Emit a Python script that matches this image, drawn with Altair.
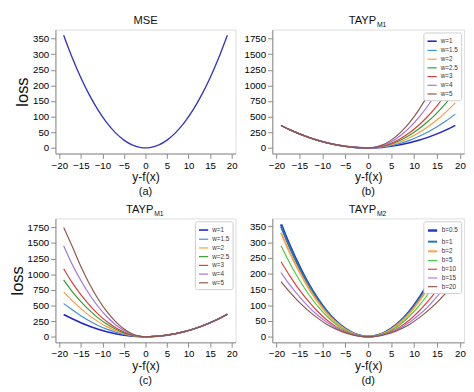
import altair as alt
import pandas as pd

FONT = "Liberation Sans"

# ---------------- data ----------------
X = [-19, -17, -15, -13, -11, -9, -7, -5, -3, -1, 0, 1, 3, 5, 7, 9, 11, 13, 15, 17, 19]

MSE = [361, 289, 225, 169, 121, 81, 49, 25, 9, 1, 0, 1, 9, 25, 49, 81, 121, 169, 225, 289, 361]

# (b) TAYP_M1 : right side raised
B_NAMES = ["w=1", "w=1.5", "w=2", "w=2.5", "w=3", "w=4", "w=5"]
B_W1 = [361, 289, 225, 169, 121, 81, 49, 25, 9, 1, 0, 1, 9, 25, 49, 81, 121, 169, 225, 289, 361]
B_W15 = [361, 289, 225, 169, 121, 81, 49, 25, 9, 1, 0, 1.5, 13.5, 37.5, 73.5, 121.5, 181.5, 253.5, 337.5, 433.5, 541.5]
B_W2 = [361, 289, 225, 169, 121, 81, 49, 25, 9, 1, 0, 2, 18, 50, 98, 162, 242, 338, 450, 578, 722]
B_W25 = [361, 289, 225, 169, 121, 81, 49, 25, 9, 1, 0, 2.5, 22.5, 62.5, 122.5, 202.5, 302.5, 422.5, 562.5, 722.5, 902.5]
B_W3 = [361, 289, 225, 169, 121, 81, 49, 25, 9, 1, 0, 3, 27, 75, 147, 243, 363, 507, 675, 867, 1083]
B_W4 = [361, 289, 225, 169, 121, 81, 49, 25, 9, 1, 0, 4, 36, 100, 196, 324, 484, 676, 900, 1156, 1444]
B_W5 = [361, 289, 225, 169, 121, 81, 49, 25, 9, 1, 0, 5, 45, 125, 245, 405, 605, 845, 1125, 1445, 1805]

# (c) TAYP_M1 : left side raised
C_W1 = [356, 289, 225, 169, 121, 81, 49, 25, 9, 1, 0, 1, 9, 25, 49, 81, 121, 169, 225, 289, 361]
C_W15 = [531, 433.5, 337.5, 253.5, 181.5, 121.5, 73.5, 37.5, 13.5, 1.5, 0, 1, 9, 25, 49, 81, 121, 169, 225, 289, 361]
C_W2 = [720, 578, 450, 338, 242, 162, 98, 50, 18, 2, 0, 1, 9, 25, 49, 81, 121, 169, 225, 289, 361]
C_W25 = [910, 722.5, 562.5, 422.5, 302.5, 202.5, 122.5, 62.5, 22.5, 2.5, 0, 1, 9, 25, 49, 81, 121, 169, 225, 289, 361]
C_W3 = [1090, 867, 675, 507, 363, 243, 147, 75, 27, 3, 0, 1, 9, 25, 49, 81, 121, 169, 225, 289, 361]
C_W4 = [1456, 1156, 900, 676, 484, 324, 196, 100, 36, 4, 0, 1, 9, 25, 49, 81, 121, 169, 225, 289, 361]
C_W5 = [1750, 1445, 1125, 845, 605, 405, 245, 125, 45, 5, 0, 1, 9, 25, 49, 81, 121, 169, 225, 289, 361]

# (d) TAYP_M2
D_NAMES = ["b=0.5", "b=1", "b=2", "b=5", "b=10", "b=15", "b=20"]
D_B05 = [357, 286, 223, 167, 120, 80, 48.5, 24.8, 8.9, 1, 0, 1, 8.9, 24.8, 48.5, 80, 120, 167, 223, 286, 357]
D_B1 = [350, 280, 218, 164, 117, 79, 47.5, 24.3, 8.7, 1, 0, 1, 8.7, 24.3, 47.5, 79, 117, 164, 218, 280, 350]
D_B2 = [330, 264, 206, 155, 111, 74, 45, 23, 8.2, 0.9, 0, 0.9, 8.2, 23, 45, 74, 111, 155, 206, 264, 330]
D_B5 = [289, 231, 180, 135, 97, 65, 39, 20, 7.2, 0.8, 0, 0.8, 7.2, 20, 39, 65, 97, 135, 180, 231, 289]
D_B10 = [238, 191, 149, 112, 80, 53, 32, 16.5, 5.9, 0.7, 0, 0.7, 5.9, 16.5, 32, 53, 80, 112, 149, 191, 238]
D_B15 = [204, 163, 127, 95, 68, 46, 28, 14, 5.1, 0.6, 0, 0.6, 5.1, 14, 28, 46, 68, 95, 127, 163, 204]
D_B20 = [175, 140, 109, 82, 59, 39, 24, 12, 4.4, 0.5, 0, 0.5, 4.4, 12, 24, 39, 59, 82, 109, 140, 175]

X_TICKS = [-20, -15, -10, -5, 0, 5, 10, 15, 20]
Y_TICKS_SMALL = [0, 50, 100, 150, 200, 250, 300, 350]
Y_TICKS_BIG = [0, 250, 500, 750, 1000, 1250, 1500, 1750]

W_COLORS = ["#2323d0", "#3d8fe0", "#ff9a3c", "#2ca02c", "#e03a3a", "#a070e0", "#8c564b"]
W_WIDTHS = [1.6, 1.2, 1.2, 1.2, 1.2, 1.2, 1.2]
D_COLORS = ["#1f3fd0", "#1f77b4", "#ffa040", "#40d040", "#e83c3c", "#a878e8", "#8c564b"]
D_WIDTHS = [2.6, 2.0, 2.0, 1.2, 1.2, 1.2, 1.2]


def long_df(names, series):
    rows = []
    for n, ys in zip(names, series):
        for xv, yv in zip(X, ys):
            rows.append({"x": xv, "y": yv, "series": n})
    return pd.DataFrame(rows)


def label(text, x, y, size, align="center"):
    return alt.Chart(pd.DataFrame({"t": [text]})).mark_text(
        fontSize=size, font=FONT, color="#111", align=align, baseline="middle").encode(
        text="t:N", x=alt.value(x), y=alt.value(y))


def panel(df, W, H, title, sub, caption, ytitle, ydom, yticks,
          names=None, colors=None, widths=None, single_color=None):
    xenc = alt.X("x:Q", scale=alt.Scale(domain=[-20.9, 20.9], nice=False, zero=False),
                 axis=alt.Axis(values=X_TICKS, format="d", grid=False, title="y-f(x)",
                               titleFontSize=12.5, titleFontWeight="normal", titlePadding=1,
                               titleFont=FONT, titleColor="#111"))
    if ytitle:
        yaxis = alt.Axis(values=yticks, format="d", grid=False, title=ytitle, titleFontSize=17,
                         titleFontWeight="normal", titlePadding=1, titleFont=FONT,
                         titleColor="#111")
    else:
        yaxis = alt.Axis(values=yticks, format="d", grid=False, title=None)
    yenc = alt.Y("y:Q", scale=alt.Scale(domain=ydom, nice=False, zero=False), axis=yaxis)

    if single_color:
        lines = alt.Chart(df).mark_line(interpolate="monotone", clip=True,
                                        color=single_color, strokeWidth=1.4).encode(x=xenc, y=yenc)
    else:
        leg = alt.Legend(orient="top-right", title=None, offset=3, fillColor="white",
                         strokeColor="#cccccc", padding=3, cornerRadius=2,
                         labelFontSize=6.5, labelFont=FONT, labelColor="#333",
                         symbolType="stroke", symbolSize=90, rowPadding=0, labelOffset=3)
        lines = alt.Chart(df).mark_line(interpolate="monotone", clip=True).encode(
            x=xenc, y=yenc,
            color=alt.Color("series:N", scale=alt.Scale(domain=names, range=colors), legend=leg),
            strokeWidth=alt.StrokeWidth("series:N",
                                        scale=alt.Scale(type="ordinal", domain=names, range=widths),
                                        legend=leg),
        )
    layers = [lines, label(caption, W / 2, H + 40, 11.5)]
    if sub:
        layers.append(label(title, W / 2 - 6, -9, 11.5))
        layers.append(label(sub, W / 2 + 9, -5, 7, align="left"))
    else:
        layers.append(label(title, W / 2, -9, 11.5))
    return alt.layer(*layers).properties(width=W, height=H)


WL, WR, H = 186, 198, 128

pa = panel(pd.DataFrame({"x": X, "y": MSE}), WL, H, "MSE", None, "(a)", "loss",
           [-18, 379], Y_TICKS_SMALL, single_color="#3535c8")
pb = panel(long_df(B_NAMES, [B_W1, B_W15, B_W2, B_W25, B_W3, B_W4, B_W5]), WR, H,
           "TAYP", "M1", "(b)", None, [-90, 1895], Y_TICKS_BIG,
           names=B_NAMES, colors=W_COLORS, widths=W_WIDTHS)
pc = panel(long_df(B_NAMES, [C_W1, C_W15, C_W2, C_W25, C_W3, C_W4, C_W5]), WL, H,
           "TAYP", "M1", "(c)", "loss", [-90, 1895], Y_TICKS_BIG,
           names=B_NAMES, colors=W_COLORS, widths=W_WIDTHS)
pd_ = panel(long_df(D_NAMES, [D_B05, D_B1, D_B2, D_B5, D_B10, D_B15, D_B20]), WR, H,
            "TAYP", "M2", "(d)", None, [-18, 376], Y_TICKS_SMALL,
            names=D_NAMES, colors=D_COLORS, widths=D_WIDTHS)

chart = alt.concat(pa, pb, pc, pd_, columns=2, spacing=5, align="each",
                   padding={"left": 0, "top": 0, "right": 0, "bottom": 0}).resolve_scale(
    x="independent", y="independent", color="independent", strokeWidth="independent"
).resolve_legend(color="independent", strokeWidth="independent").configure_view(
    stroke="#9a9a9a", strokeWidth=1
).configure_axis(
    grid=False, domain=False, ticks=True, tickSize=3, tickColor="#444",
    labelFont=FONT, labelFontSize=9, labelColor="#222", labelPadding=2,
).configure(background="white")

chart.save("out.html", embed_options={"renderer": "svg", "actions": False})
